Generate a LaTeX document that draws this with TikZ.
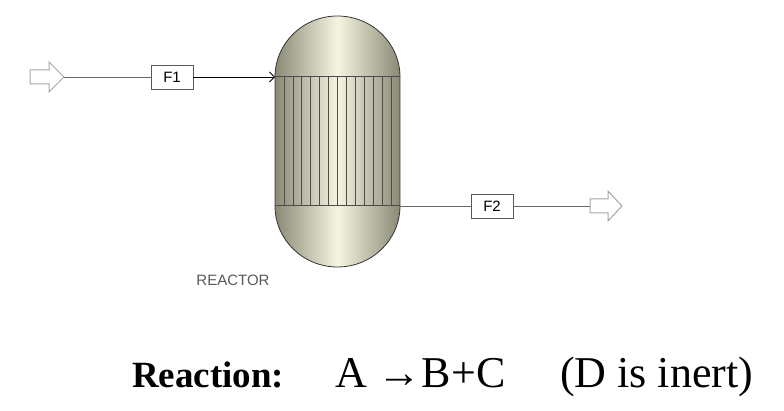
\documentclass[tikz,border=0pt]{standalone}
\usepackage{fontspec}
\usetikzlibrary{arrows.meta}
\setmainfont{Liberation Serif}
\newfontfamily\ssf{Liberation Sans}
\begin{document}
\begin{tikzpicture}[x=1pt,y=1pt,
  stream/.style={draw=gray!80!black,line width=0.8pt},
  tag/.style={draw=gray!70!black,fill=white,line width=0.8pt,minimum width=42pt,minimum height=24pt,inner sep=0pt,font=\ssf\fontsize{15}{15}\selectfont},
  hollow/.style={draw=gray!70,fill=white,line width=1pt},
  rtext/.style={anchor=base west,inner sep=0pt,font=\fontsize{44}{44}\selectfont}]
\useasboundingbox (0,0) rectangle (784,410);
% input arrow
\draw[hollow] (30,340) -- (49,340) -- (49,348) -- (64,333) -- (49,318) -- (49,326) -- (30,326) -- cycle;
\coordinate (in) at (64,333);
\node[tag] (f1) at (172,333) {F1};
% reactor
\path[left color=black!85!olive!50,right color=black!85!olive!50,middle color=olive!8!white,draw=black!80,line width=0.8pt]
  (275,333) arc (180:0:62.5 and 61) -- (400,204) arc (0:-180:62.5 and 61) -- cycle;
\foreach \i in {1,...,13} \draw[black!70,line width=0.6pt] (275+\i*125/14,333) -- (275+\i*125/14,204);
\draw[black!70,line width=1pt] (275,333) -- (400,333) (275,204) -- (400,204);
\coordinate (rin) at (275,333);
\coordinate (rout) at (400,204);
\draw[stream] (in) -- (f1);
\draw[stream,-{Straight Barb[length=5pt]},black] (f1) -- (rin);
\node[tag] (f2) at (492,204) {F2};
\coordinate (out) at (590,204);
\draw[stream] (rout) -- (f2) -- (out);
\draw[hollow] (590,211) -- (608,211) -- (608,219) -- (622,204) -- (608,189) -- (608,197) -- (590,197) -- cycle;
\node[font=\ssf\fontsize{15}{15}\selectfont,text=black!65] (lbl) at (233,130) {REACTOR};
\node[anchor=base west,font=\bfseries\fontsize{37}{37}\selectfont,inner sep=0pt] (rx) at (132,23) {Reaction:};
\node[rtext] (eq) at (335,23) {A →B+C};
\node[rtext] (note) at (560,23) {(D is inert)};
\end{tikzpicture}
\end{document}
